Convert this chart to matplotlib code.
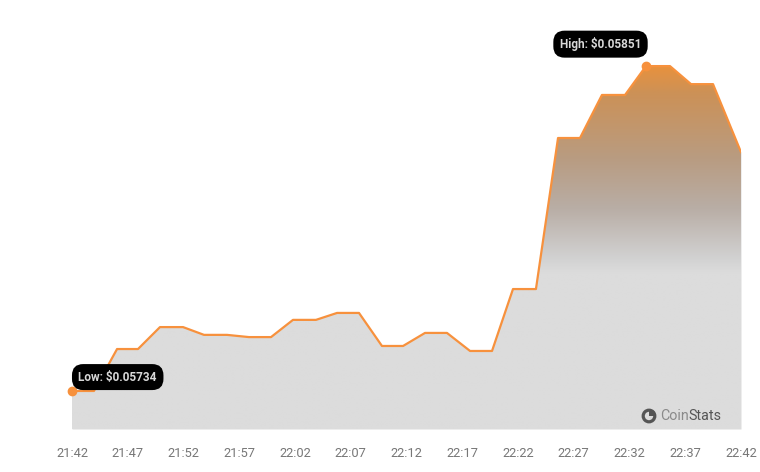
import matplotlib.pyplot as plt
import matplotlib.patches as mpatches
from matplotlib.colors import to_rgb
import numpy as np

# minutes after 21:42 and price in USD
minutos = [0, 1.97, 4.04, 5.92, 7.89, 9.96, 11.84, 13.9, 15.87, 17.85,
           19.82, 21.88, 23.77, 25.74, 27.8, 29.69, 31.66, 33.63, 35.7, 37.67,
           39.55, 41.61, 43.59, 45.56, 47.53, 49.6, 51.48, 53.63, 55.52, 57.49, 60]
precios = [0.05734, 0.05734, 0.057491, 0.057491, 0.05757, 0.05757, 0.057542, 0.057542,
           0.057534, 0.057534, 0.057596, 0.057596, 0.057621, 0.057621, 0.057502, 0.057502,
           0.057549, 0.057549, 0.057484, 0.057484, 0.057707, 0.057707, 0.058251, 0.058251,
           0.058406, 0.058406, 0.05851, 0.05851, 0.058445, 0.058445, 0.0582]
ticks_min = [0, 5, 10, 15, 20, 25, 30, 35, 40, 45, 50, 55, 60]
ticks_lab = ["21:42", "21:47", "21:52", "21:57", "22:02", "22:07", "22:12",
             "22:17", "22:22", "22:27", "22:32", "22:37", "22:42"]

naranja = "#f7913d"
gris = "#dcdcdc"

W, H = 760, 472
fig = plt.figure(figsize=(W / 100, H / 100), dpi=100)
ax = fig.add_axes([72 / W, (H - 429) / H, 669 / W, (429 - 20) / H])

x = np.array(minutos)
y = np.array(precios)
ymin, ymax = 0.057203, 0.058676
ax.set_xlim(0, 60)
ax.set_ylim(ymin, ymax)

relleno = ax.fill_between(x, y, ymin, color=gris, lw=0, zorder=1)

# degradado naranja -> marrón -> gris (paradas en fracción desde el máximo)
paradas = [(0.0, "#e8913e"), (0.13, "#cc9157"), (0.45, "#b89c82"),
           (0.69, "#b9aea6"), (0.93, "#d2d2d2"), (1.0, gris)]
alto, bajo = max(precios), 0.057764
yy = np.linspace(ymax, ymin, 400)
t = np.clip((alto - yy) / (alto - bajo), 0, 1)
img = np.zeros((400, 2, 3))
for c in range(3):
    img[:, :, c] = np.interp(t, [p for p, _ in paradas],
                             [to_rgb(col)[c] for _, col in paradas])[:, None]
im = ax.imshow(img, extent=[0, 60, ymin, ymax], aspect="auto", zorder=2,
               interpolation="bilinear")
im.set_clip_path(relleno.get_paths()[0], transform=ax.transData)

ax.plot(x, y, color=naranja, lw=1.6, zorder=3, solid_joinstyle="round")

i_low = int(np.argmin(y))
i_high = int(np.argmax(y))
ax.plot([x[i_low], x[i_high]], [y[i_low], y[i_high]], "o", color=naranja,
        ms=6, zorder=4, clip_on=False)

caja = dict(boxstyle="round,pad=0.55,rounding_size=0.95", fc="black", ec="none")
ax.text(4.1, 0.05739, f"Low: ${precios[i_low]:.5f}", ha="center", va="center",
        color="#d8d8d8", fontsize=8.5, fontweight="bold", family="Roboto",
        bbox=caja, zorder=5)
ax.text(47.4, 0.058589, f"High: ${precios[i_high]:.5f}", ha="center", va="center",
        color="#d8d8d8", fontsize=8.5, fontweight="bold", family="Roboto",
        bbox=caja, zorder=5)

ax.set_xticks(ticks_min)
ax.set_xticklabels(ticks_lab, family="Roboto", fontsize=9.3, color="#777777")
ax.tick_params(axis="x", length=0, pad=13)
ax.set_yticks([])
for s in ax.spines.values():
    s.set_visible(False)

# marca CoinStats
cx, cy = 6.49, (H - 416) / 100
icono = mpatches.Circle((cx, cy), 0.058, transform=fig.dpi_scale_trans,
                        fc="none", ec="#555555", lw=2.3)
cuna = mpatches.Wedge((cx, cy), 0.07, 0, 90, transform=fig.dpi_scale_trans,
                      fc="#555555", ec="none")
fig.patches.extend([icono, cuna])
coin = fig.text(660 / W, (H - 416) / H, "Coin", family="Roboto", fontsize=10.3,
                color="#8a8a8a", va="center", ha="left")
ax.annotate("Stats", xy=(1, 0.5), xycoords=coin, va="center", ha="left",
            family="Roboto", fontsize=10.3, color="#555555", annotation_clip=False)

fig.savefig("out.png", dpi=100)
